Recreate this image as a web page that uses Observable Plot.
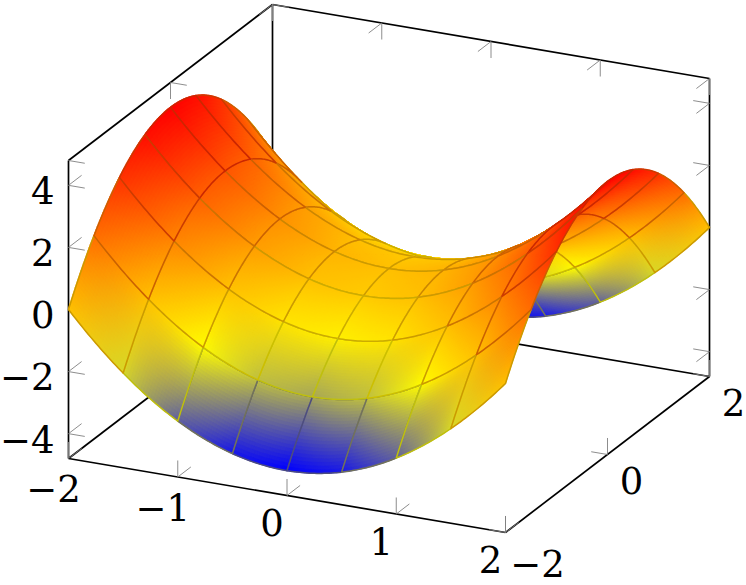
<!DOCTYPE html>
<html>
<head>
<meta charset="utf-8">
<script src="https://cdn.jsdelivr.net/npm/d3@7"></script>
<script src="https://cdn.jsdelivr.net/npm/@observablehq/plot@0.6"></script>
<style>html,body{margin:0;padding:0;background:#fff}svg{display:block}svg text{font-family:"DejaVu Serif" !important}</style>
</head>
<body>
<script>
// Surface samples (17 x 17 control points => 8 x 8 biquadratic patches)
const gridX = [-2,-1.75,-1.5,-1.25,-1,-0.75,-0.5,-0.25,0,0.25,0.5,0.75,1,1.25,1.5,1.75,2];
const gridY = [-2,-1.75,-1.5,-1.25,-1,-0.75,-0.5,-0.25,0,0.25,0.5,0.75,1,1.25,1.5,1.75,2];
// gridZ[row for y][column for x]
const gridZ = [
[0,-0.9375,-1.75,-2.4375,-3,-3.4375,-3.75,-3.9375,-4,-3.9375,-3.75,-3.4375,-3,-2.4375,-1.75,-0.9375,0],
[0.9375,0,-0.8125,-1.5,-2.0625,-2.5,-2.8125,-3,-3.0625,-3,-2.8125,-2.5,-2.0625,-1.5,-0.8125,0,0.9375],
[1.75,0.8125,0,-0.6875,-1.25,-1.6875,-2,-2.1875,-2.25,-2.1875,-2,-1.6875,-1.25,-0.6875,0,0.8125,1.75],
[2.4375,1.5,0.6875,0,-0.5625,-1,-1.3125,-1.5,-1.5625,-1.5,-1.3125,-1,-0.5625,0,0.6875,1.5,2.4375],
[3,2.0625,1.25,0.5625,0,-0.4375,-0.75,-0.9375,-1,-0.9375,-0.75,-0.4375,0,0.5625,1.25,2.0625,3],
[3.4375,2.5,1.6875,1,0.4375,0,-0.3125,-0.5,-0.5625,-0.5,-0.3125,0,0.4375,1,1.6875,2.5,3.4375],
[3.75,2.8125,2,1.3125,0.75,0.3125,0,-0.1875,-0.25,-0.1875,0,0.3125,0.75,1.3125,2,2.8125,3.75],
[3.9375,3,2.1875,1.5,0.9375,0.5,0.1875,0,-0.0625,0,0.1875,0.5,0.9375,1.5,2.1875,3,3.9375],
[4,3.0625,2.25,1.5625,1,0.5625,0.25,0.0625,0,0.0625,0.25,0.5625,1,1.5625,2.25,3.0625,4],
[3.9375,3,2.1875,1.5,0.9375,0.5,0.1875,0,-0.0625,0,0.1875,0.5,0.9375,1.5,2.1875,3,3.9375],
[3.75,2.8125,2,1.3125,0.75,0.3125,0,-0.1875,-0.25,-0.1875,0,0.3125,0.75,1.3125,2,2.8125,3.75],
[3.4375,2.5,1.6875,1,0.4375,0,-0.3125,-0.5,-0.5625,-0.5,-0.3125,0,0.4375,1,1.6875,2.5,3.4375],
[3,2.0625,1.25,0.5625,0,-0.4375,-0.75,-0.9375,-1,-0.9375,-0.75,-0.4375,0,0.5625,1.25,2.0625,3],
[2.4375,1.5,0.6875,0,-0.5625,-1,-1.3125,-1.5,-1.5625,-1.5,-1.3125,-1,-0.5625,0,0.6875,1.5,2.4375],
[1.75,0.8125,0,-0.6875,-1.25,-1.6875,-2,-2.1875,-2.25,-2.1875,-2,-1.6875,-1.25,-0.6875,0,0.8125,1.75],
[0.9375,0,-0.8125,-1.5,-2.0625,-2.5,-2.8125,-3,-3.0625,-3,-2.8125,-2.5,-2.0625,-1.5,-0.8125,0,0.9375],
[0,-0.9375,-1.75,-2.4375,-3,-3.4375,-3.75,-3.9375,-4,-3.9375,-3.75,-3.4375,-3,-2.4375,-1.75,-0.9375,0]
];
const xTicks = [-2,-1,0,1,2];
const yTicks = [-2,0,2];
const zTicks = [-4,-2,0,2,4];
const zLimits = [-4.8,4.8];
const xLimits = [-2,2];
const yLimits = [-2,2];
const colorStops = [-4,-4/3,4/3,4];
const colorNames = ["rgb(0,0,255)","rgb(255,255,0)","rgb(255,128,0)","rgb(255,0,0)"];

// Orthographic view of the 3D box, onto pixel-valued x/y scales
const view = (x,y,z) => [
  68 + (x+2)*109.25 + (y+2)*51,
  309 + (x+2)*18.5 - (y+2)*39 - z*31.04
];
const [zLo,zHi] = zLimits, [xLo,xHi] = xLimits, [yLo,yHi] = yLimits;

const colorOf = d3.scaleLinear().domain(colorStops).range(colorNames).interpolate(d3.interpolateRgb).clamp(true);
const darken = c => { const k = d3.rgb(c); return `rgb(${Math.round(k.r*0.8)},${Math.round(k.g*0.8)},${Math.round(k.b*0.8)})`; };

// Biquadratic patch evaluation, as the surface patches are drawn
const L = u => [2*(u-0.5)*(u-1), -4*u*(u-1), 2*u*(u-0.5)];
function patchPoint(i,j,u,v){
  const a = L(u), b = L(v);
  let X=0,Y=0,Z=0;
  for(let p=0;p<3;p++) for(let q=0;q<3;q++){
    const w=a[p]*b[q];
    X+=w*gridX[2*i+p]; Y+=w*gridY[2*j+q]; Z+=w*gridZ[2*j+q][2*i+p];
  }
  return view(X,Y,Z);
}
// Colours are mapped at the patch corners and blended across the patch
function patchColor(i,j,u,v){
  const c00=d3.rgb(colorOf(gridZ[2*j][2*i])), c10=d3.rgb(colorOf(gridZ[2*j][2*i+2])),
        c01=d3.rgb(colorOf(gridZ[2*j+2][2*i])), c11=d3.rgb(colorOf(gridZ[2*j+2][2*i+2]));
  const mix=k=>Math.round((1-u)*(1-v)*c00[k]+u*(1-v)*c10[k]+(1-u)*v*c01[k]+u*v*c11[k]);
  return `rgb(${mix("r")},${mix("g")},${mix("b")})`;
}
const patchMean=(i,j)=>(gridZ[2*j][2*i]+gridZ[2*j][2*i+2]+gridZ[2*j+2][2*i]+gridZ[2*j+2][2*i+2])/4;

const SUB = 22, nPatch = 8;
// Patches are painted in order of their depth along the view direction
const patches=[];
for(let i=0;i<nPatch;i++) for(let j=0;j<nPatch;j++){
  const cx=(gridX[2*i]+gridX[2*i+2])/2, cy=(gridY[2*j]+gridY[2*j+2])/2;
  patches.push({i,j,depth:0.366*cx-0.785*cy+0.5*patchMean(i,j)});
}
patches.sort((a,b)=>a.depth-b.depth);
const surfaceMarks = [];
for(const {i,j} of patches){
  const polys=[];
  let id=0;
  for(let a=0;a<SUB;a++) for(let b=SUB-1;b>=0;b--){
    const u0=a/SUB,u1=(a+1)/SUB,v0=b/SUB,v1=(b+1)/SUB;
    const c=patchColor(i,j,(u0+u1)/2,(v0+v1)/2);
    for(const [u,v] of [[u0,v0],[u1,v0],[u1,v1],[u0,v1]]){
      const [px,py]=patchPoint(i,j,u,v);
      polys.push({px,py,c,id});
    }
    id++;
  }
  surfaceMarks.push(Plot.line(polys,{x:"px",y:"py",z:"id",fill:"c",stroke:"c",strokeWidth:0.8,curve:"linear-closed",shapeRendering:"crispEdges"}));
  const edge=[], N=SUB;
  for(let k=0;k<N;k++) edge.push(patchPoint(i,j,k/N,0));
  for(let k=0;k<N;k++) edge.push(patchPoint(i,j,1,k/N));
  for(let k=0;k<N;k++) edge.push(patchPoint(i,j,1-k/N,1));
  for(let k=0;k<N;k++) edge.push(patchPoint(i,j,0,1-k/N));
  surfaceMarks.push(Plot.line(edge,{x:d=>d[0],y:d=>d[1],stroke:darken(colorOf(patchMean(i,j))),strokeWidth:1.5,curve:"linear-closed"}));
}

// Box edges
const corner = (x,y,z)=>view(x,y,z);
const boxEdges = [
  [[xLo,yHi,zLo],[xLo,yHi,zHi]],
  [[xLo,yLo,zLo],[xLo,yHi,zLo]],
  [[xLo,yHi,zLo],[xHi,yHi,zLo]],
  [[xLo,yLo,zLo],[xLo,yLo,zHi]],
  [[xLo,yLo,zHi],[xLo,yHi,zHi]],
  [[xLo,yHi,zHi],[xHi,yHi,zHi]],
  [[xHi,yHi,zHi],[xHi,yHi,zLo]],
  [[xLo,yLo,zLo],[xHi,yLo,zLo]],
  [[xHi,yLo,zLo],[xHi,yHi,zLo]]
].map(([a,b])=>{const p=corner(...a),q=corner(...b);return {x1:p[0],y1:p[1],x2:q[0],y2:q[1]};});

// Tick stubs: fixed on-screen length along projected axis directions
const TL=16.5;
const norm=(a,b)=>{const h=Math.hypot(a,b);return [a/h*TL,b/h*TL];};
const dirX=norm(109.25,18.5), dirY=norm(51,-39), dirZ=[0,-TL];
const stubs=[];
const stub=(p,d,s)=>stubs.push({x1:p[0],y1:p[1],x2:p[0]+s*d[0],y2:p[1]+s*d[1]});
for(const x of xTicks){
  const p=view(x,yLo,zLo),q=view(x,yHi,zHi);
  stub(p,dirZ,1); stub(p,dirY,1); stub(q,dirZ,-1); stub(q,dirY,-1);
}
for(const y of yTicks){
  const p=view(xHi,y,zLo),q=view(xLo,y,zHi);
  stub(p,dirZ,1); stub(p,dirX,-1); stub(q,dirX,1);
  if(y!==yLo) stub(q,dirZ,-1);
}
for(const z of zTicks){
  const p=view(xLo,yLo,z),q=view(xHi,yHi,z);
  stub(p,dirX,1); stub(p,dirY,1); stub(q,dirX,-1); stub(q,dirY,-1);
}

// Tick labels
const fmt=v=>(v<0?"\u2212":"")+Math.abs(v);
const textOpts={fontSize:37,fill:"#000"};
const label=(v,p,dx,dy,anchor)=>Plot.text([{t:fmt(v),px:p[0],py:p[1]}],{x:"px",y:"py",text:"t",dx,dy,...textOpts,textAnchor:anchor||"middle"});
const labelMarks=[
  ...zTicks.map(z=>label(z,view(xLo,yLo,z),-14,7,"end")),
  ...xTicks.map(x=>label(x,view(x,yLo,zLo),-15,x<0?32:29)),
  label(yTicks[0],view(xHi,yTicks[0],zLo),32,33),
  label(yTicks[1],view(xHi,yTicks[1],zLo),24,28),
  label(yTicks[2],view(xHi,yTicks[2],zLo),24,28)
];

const chart=Plot.plot({
  width:746,height:585,margin:0,
  x:{domain:[0,746],range:[0,746],axis:null},
  y:{domain:[0,585],range:[0,585],axis:null},
  color:{type:"identity"},
  style:{background:"#fff"},
  marks:[
    Plot.link(boxEdges,{x1:"x1",y1:"y1",x2:"x2",y2:"y2",stroke:"#000",strokeWidth:1.7}),
    Plot.link(stubs,{x1:"x1",y1:"y1",x2:"x2",y2:"y2",stroke:"#808080",strokeWidth:0.9}),
    ...surfaceMarks,
    ...labelMarks
  ]
});
document.body.appendChild(chart);
</script>
</body>
</html>
